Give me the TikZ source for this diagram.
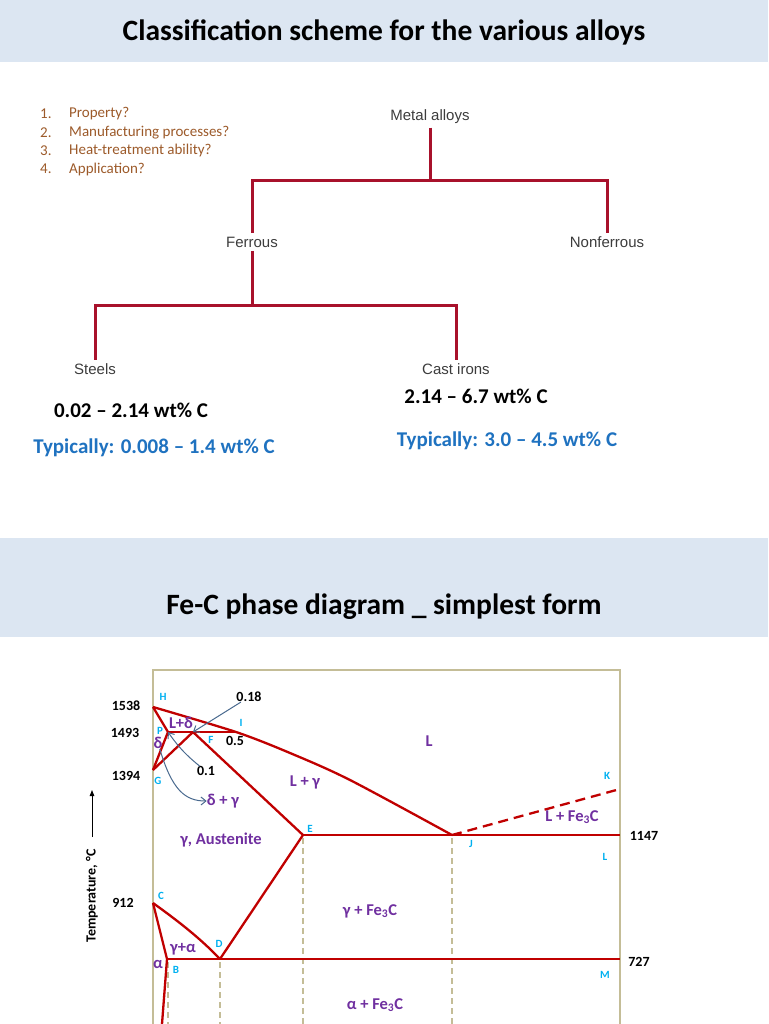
\documentclass[tikz,border=0pt]{standalone}
\usepackage{fontspec}
\setmainfont{Carlito}
\newfontfamily\treefont{Liberation Sans}
\usetikzlibrary{arrows.meta}
\definecolor{barBlue}{HTML}{DCE6F2}
\definecolor{askBrown}{HTML}{9C5A2A}
\definecolor{treeRed}{HTML}{A8112B}
\definecolor{treeGrey}{HTML}{3C3C3C}
\definecolor{typBlue}{HTML}{1F72C0}
\definecolor{phaseRed}{HTML}{C00000}
\definecolor{frameTan}{HTML}{C4BD97}
\definecolor{phasePurple}{HTML}{7030A0}
\definecolor{pointCyan}{HTML}{00B0F0}
\definecolor{noteSlate}{HTML}{4A6A8F}
\tikzset{
  alloyfig/.style={x=1pt, y=1pt},
  titletext/.style={font=\bfseries\fontsize{29.5}{34}\selectfont},
  asktext/.style={font=\fontsize{15}{17}\selectfont, text=askBrown, anchor=west, inner sep=0pt},
  treelabel/.style={font=\treefont\fontsize{15}{18}\selectfont, text=treeGrey},
  branch/.style={draw=treeRed, line width=3pt},
  rangetext/.style={font=\bfseries\fontsize{21}{24}\selectfont},
  typtext/.style={rangetext, text=typBlue},
  frameline/.style={draw=frameTan, line width=2pt},
  guide/.style={draw=frameTan, line width=1.6pt, dash pattern=on 6pt off 4pt},
  phaseline/.style={draw=phaseRed, line width=2.3pt, line join=round},
  solvusdash/.style={phaseline, dash pattern=on 10pt off 6pt},
  % Phasenfelder violett, Eckpunkte cyan
  phaselabel/.style={font=\bfseries\fontsize{16.5}{18}\selectfont, text=phasePurple, inner sep=0pt},
  pointlabel/.style={font=\bfseries\fontsize{11}{12}\selectfont, text=pointCyan, inner sep=0pt},
  axisnum/.style={font=\bfseries\fontsize{14}{16}\selectfont, inner sep=0pt},
  notearrow/.style={draw=noteSlate, line width=1pt, -{Straight Barb[length=5pt, width=8pt]}},
  tempaxis/.style={draw=black, line width=1pt, -{Triangle[length=6pt, width=4.5pt]}},
}
\begin{document}
\begin{tikzpicture}[alloyfig]
  \useasboundingbox (0,0) rectangle (768,-1024);
  % Titelbalken
  \fill[barBlue] (0,0) rectangle (768,-62);
  \fill[barBlue] (0,-538) rectangle (768,-637);
  \node[titletext] (TitleClass) at (384,-32) {Classification scheme for the various alloys};
  \node[titletext] (TitlePhase) at (384,-607) {Fe-C phase diagram \_ simplest form};

  % Fragenliste
  \foreach \q [count=\i] in {Property?, Manufacturing processes?, Heat-treatment ability?, Application?} {
    \node[asktext] (AskNum\i) at (40,{-95.6-18.4*\i}) {\i.};
    \node[asktext] (Ask\i) at (69,{-95.6-18.4*\i}) {\q};
  }

  % Klassifikationsbaum
  \node[treelabel] (MetalAlloys) at (430,-117) {Metal alloys};
  \node[treelabel] (Ferrous) at (252,-242) {Ferrous};
  \node[treelabel] (Nonferrous) at (607,-242) {Nonferrous};
  \node[treelabel] (Steels) at (95,-369) {Steels};
  \node[treelabel] (CastIrons) at (456,-369) {Cast irons};
  \coordinate (SplitTop) at (430,-181);
  \coordinate (SplitFerrous) at (252,-305);
  \draw[branch] (MetalAlloys) -- (SplitTop);
  \draw[branch] (Ferrous) |- (SplitTop) -| (Nonferrous);
  \draw[branch] (Ferrous) -- (SplitFerrous);
  \draw[branch] (Steels) |- (SplitFerrous) -| (CastIrons);

  \node[rangetext] (SteelRange) at (131,-410) {0.02 – 2.14 wt\% C};
  \node[rangetext] (IronRange) at (476,-396) {2.14 – 6.7 wt\% C};
  \node[typtext] (SteelTypical) at (154,-448) {Typically: 0.008 – 1.4 wt\% C};
  \node[typtext] (IronTypical) at (507,-441) {Typically: 3.0 – 4.5 wt\% C};

  % Fe-C Diagramm
  \draw[frameline] (153,-1024) -- (153,-670) -- (620,-670) -- (620,-1024);
  \coordinate (ptH) at (153,-707);
  \coordinate (ptP) at (168,-732);
  \coordinate (ptF) at (193,-732);
  \coordinate (ptI) at (236,-732);
  \coordinate (ptG) at (153,-770);
  \coordinate (ptE) at (303,-835);
  \coordinate (ptJ) at (452,-835);
  \coordinate (ptK) at (620,-789);
  \coordinate (ptEutEnd) at (620,-835);
  \coordinate (ptC) at (153,-903);
  \coordinate (ptB) at (167,-959);
  \coordinate (ptD) at (220,-959);
  \coordinate (ptM) at (620,-959);
  \coordinate (ptFoot) at (162,-1024);
  \foreach \gx/\gy in {168/-962, 220/-962, 303/-838, 452/-838}
    \draw[guide] (\gx,\gy) -- (\gx,-1024);
  \draw[phaseline] (ptH) -- (ptP) -- (ptG);
  \draw[phaseline] (ptP) -- (ptI);
  \draw[phaseline] (ptG) -- (ptF) -- (ptE);
  \draw[phaseline] plot[smooth] coordinates {(ptH) (ptI) (290,-753) (350,-780) (ptJ)};
  \draw[phaseline] (ptE) -- (ptEutEnd);
  \draw[solvusdash] (ptJ) -- (ptK);
  \draw[phaseline] (ptC) .. controls (178,-921) and (200,-938) .. (ptD);
  \draw[phaseline] (ptC) -- (ptB) -- (ptFoot);
  \draw[phaseline] (ptB) -- (ptM);
  \draw[phaseline] (ptD) -- (ptE);

  \node[pointlabel] (labH) at (163,-697) {H};
  \node[pointlabel] (labP) at (160,-731) {P};
  \node[pointlabel] (labF) at (211,-740) {F};
  \node[pointlabel] (labI) at (241,-723) {I};
  \node[pointlabel] (labG) at (158,-781) {G};
  \node[pointlabel] (labE) at (310,-829) {E};
  \node[pointlabel] (labJ) at (471,-844) {J};
  \node[pointlabel] (labK) at (607,-776) {K};
  \node[pointlabel] (labL) at (605,-857) {L};
  \node[pointlabel] (labM) at (605,-975) {M};
  \node[pointlabel] (labC) at (161,-896) {C};
  \node[pointlabel] (labD) at (219,-944) {D};
  \node[pointlabel] (labB) at (176,-970) {B};

  \node[axisnum] (T1538) at (126,-706) {1538};
  \node[axisnum] (T1493) at (125,-733) {1493};
  \node[axisnum] (T1394) at (126,-776) {1394};
  \node[axisnum] (T912) at (123,-903) {912};
  \node[axisnum] (T1147) at (644,-836) {1147};
  \node[axisnum] (T727) at (639,-962) {727};
  \node[axisnum] (C018) at (249,-697) {0.18};
  \node[axisnum] (C05) at (235,-741) {0.5};
  \node[axisnum] (C01) at (206,-771) {0.1};

  \node[phaselabel] (PhLdelta) at (181,-723) {L+δ};
  \node[phaselabel] (PhDelta) at (158,-743) {δ};
  \node[phaselabel] (PhDeltaGamma) at (223,-801) {δ + γ};
  \node[phaselabel] (PhLGamma) at (305,-782) {L + γ};
  \node[phaselabel] (PhL) at (429,-741) {L};
  \node[phaselabel] (PhLCem) at (572,-817) {L + Fe\textsubscript{3}C};
  \node[phaselabel] (PhAustenite) at (221,-840) {γ, Austenite};
  \node[phaselabel] (PhGammaCem) at (370,-911) {γ + Fe\textsubscript{3}C};
  \node[phaselabel] (PhGammaAlpha) at (183,-949) {γ+α};
  \node[phaselabel] (PhAlpha) at (158,-964) {α};
  \node[phaselabel] (PhAlphaCem) at (375,-1005) {α + Fe\textsubscript{3}C};

  \draw[notearrow] (C018) -- (ptF);
  \draw[notearrow] (C01) to[bend left=8] (ptP);
  \draw[notearrow] (PhDelta) .. controls (172,-790) and (185,-801) .. (PhDeltaGamma);

  \node[axisnum, rotate=90] (TempLabel) at (92,-896) {Temperature, °C};
  \coordinate (TempTip) at (92,-790);
  \draw[tempaxis, shorten <=12pt] (TempLabel.east) -- (TempTip);
\end{tikzpicture}
\end{document}
